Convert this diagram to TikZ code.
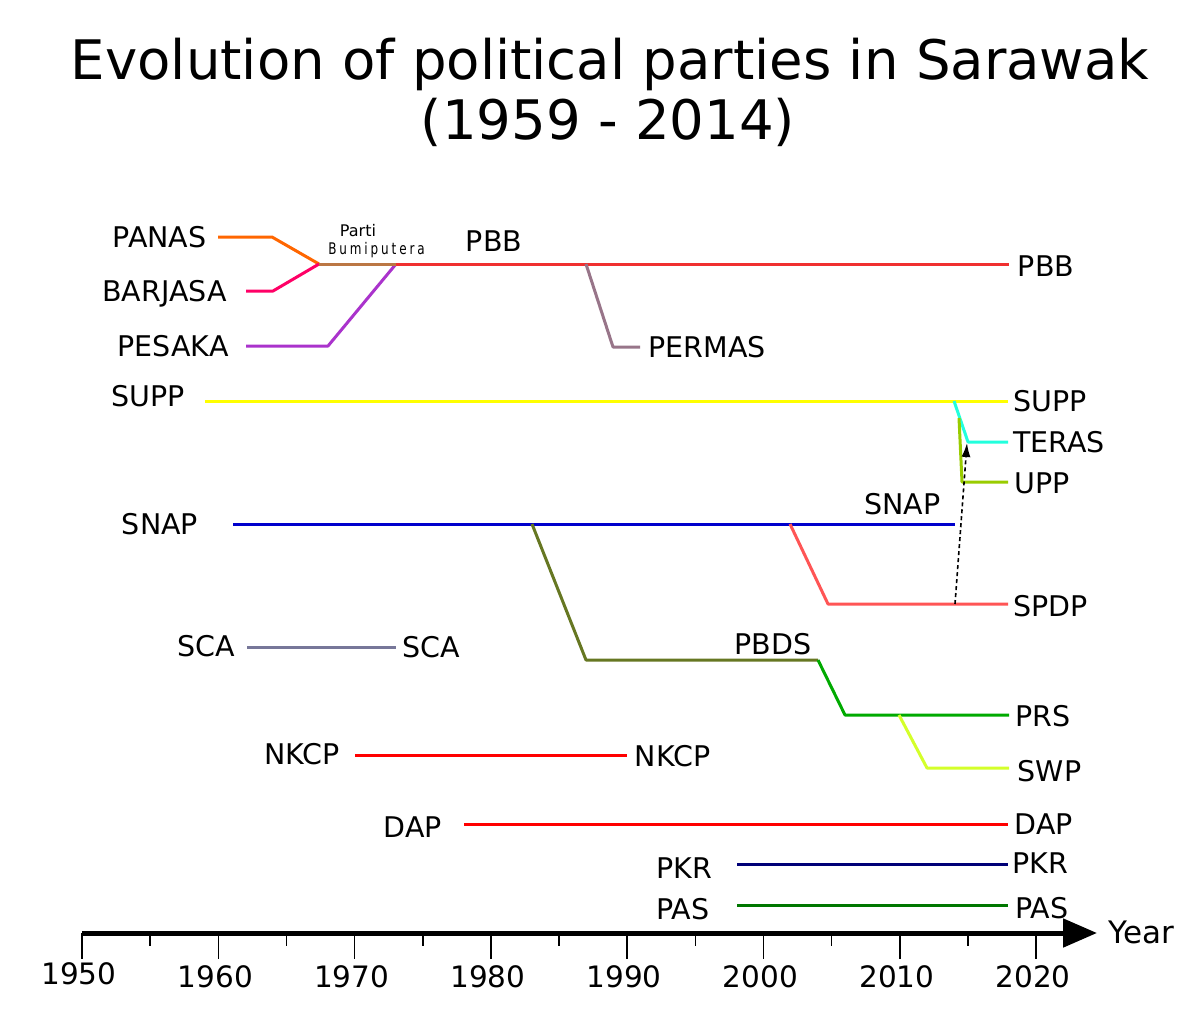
\documentclass[tikz,border=0pt]{standalone}
\usepackage{fontspec}
\setmainfont{DejaVu Sans}
\newfontfamily\bumifont[LetterSpace=24]{DejaVu Sans}
\usetikzlibrary{arrows.meta}
\definecolor{cPanas}{HTML}{FF6600}
\definecolor{cBarjasa}{HTML}{FF0066}
\definecolor{cPB}{HTML}{BB7744}
\definecolor{cPesaka}{HTML}{AA33CC}
\definecolor{cPBB}{HTML}{F03030}
\definecolor{cPermas}{HTML}{987589}
\definecolor{cSupp}{HTML}{FFFF00}
\definecolor{cTeras}{HTML}{22FFDD}
\definecolor{cUpp}{HTML}{99CC00}
\definecolor{cSnap}{HTML}{0000CC}
\definecolor{cSpdp}{HTML}{FF5555}
\definecolor{cPbds}{HTML}{667722}
\definecolor{cPrs}{HTML}{00AA00}
\definecolor{cSwp}{HTML}{D4FF2A}
\definecolor{cSca}{HTML}{777799}
\definecolor{cRed}{HTML}{FF0000}
\definecolor{cPkr}{HTML}{000077}
\definecolor{cPas}{HTML}{007700}
\tikzset{
  party/.style={line width=3pt, line join=round},
  lab/.style={font=\fontsize{28.5}{30}\selectfont, inner sep=0pt, text height=20.8pt, text depth=0pt},
  yrlab/.style={font=\fontsize{29.5}{31}\selectfont, inner sep=0pt, text height=21.5pt, text depth=0pt},
  smalllab/.style={font=\fontsize{16}{17}\selectfont, inner sep=0pt, text height=11.7pt, text depth=0pt},
  titlelab/.style={font=\fontsize{54.5}{60}\selectfont, inner sep=0pt, anchor=base},
  tickmajor/.style={line width=1.5pt},
  tickminor/.style={line width=1.5pt},
}
\begin{document}
\begin{tikzpicture}[x=1pt,y=-1pt]
\useasboundingbox (0,0) rectangle (1200,1015);
\fill[white] (0,0) rectangle (1200,1015);

% title
\node[titlelab] (title1) at (610,79) {Evolution of political parties in Sarawak};
\node[titlelab] (title2) at (608,139) {(1959 - 2014)};

% coordinates
\coordinate (panasA) at (218,237);
\coordinate (panasB) at (272,237);
\coordinate (pbA) at (319,264);
\coordinate (barjA) at (246,291);
\coordinate (barjB) at (273,291);
\coordinate (pesA) at (246,346);
\coordinate (pesB) at (328,346);
\coordinate (pbbA) at (396,264);
\coordinate (pbbB) at (1009,264);
\coordinate (permA) at (586,264);
\coordinate (permB) at (613,347);
\coordinate (permC) at (640,347);
\coordinate (suppA) at (205,401);
\coordinate (suppB) at (1008,401);
\coordinate (terA) at (954,401);
\coordinate (terB) at (968,442);
\coordinate (terC) at (1008,442);
\coordinate (uppA) at (959,418);
\coordinate (uppB) at (962,482);
\coordinate (uppC) at (1008,482);
\coordinate (snapA) at (233,524);
\coordinate (snapB) at (955,524);
\coordinate (spdpA) at (790,524);
\coordinate (spdpB) at (828,604);
\coordinate (spdpC) at (1008,604);
\coordinate (spdpD) at (955,604);
\coordinate (arrT) at (967,443);
\coordinate (pbdsA) at (532,524);
\coordinate (pbdsB) at (586,660);
\coordinate (pbdsC) at (818,660);
\coordinate (prsB) at (845,715);
\coordinate (prsC) at (1009,715);
\coordinate (swpA) at (899,715);
\coordinate (swpB) at (927,768);
\coordinate (swpC) at (1009,768);
\coordinate (scaA) at (247,647);
\coordinate (scaB) at (396,647);
\coordinate (nkA) at (355,755);
\coordinate (nkB) at (627,755);
\coordinate (dapA) at (464,824);
\coordinate (dapB) at (1008,824);
\coordinate (pkrA) at (737,864);
\coordinate (pkrB) at (1008,864);
\coordinate (pasA) at (737,905);
\coordinate (pasB) at (1008,905);
\coordinate (axA) at (82,933);
\coordinate (axB) at (1097,933);

% party lines
\draw[party, cPanas] (panasA) -- (panasB) -- (pbA);
\draw[party, cBarjasa] (barjA) -- (barjB) -- (pbA);
\draw[party, cPesaka] (pesA) -- (pesB) -- (pbbA);
\draw[party, cPBB] (pbbA) -- (pbbB);
\draw[party, cPB] (pbA) -- (pbbA);
\draw[party, cPermas] (permA) -- (permB) -- (permC);
\draw[party, cSupp] (suppA) -- (suppB);
\draw[party, cTeras] (terA) -- (terB) -- (terC);
\draw[party, cUpp] (uppA) -- (uppB) -- (uppC);
\draw[party, cSnap] (snapA) -- (snapB);
\draw[party, cSpdp] (spdpA) -- (spdpB) -- (spdpC);
\draw[party, cPbds] (pbdsA) -- (pbdsB) -- (pbdsC);
\draw[party, cPrs] (pbdsC) -- (prsB) -- (prsC);
\draw[party, cSwp] (swpA) -- (swpB) -- (swpC);
\draw[party, cSca] (scaA) -- (scaB);
\draw[party, cRed] (nkA) -- (nkB);
\draw[party, cRed] (dapA) -- (dapB);
\draw[party, cPkr] (pkrA) -- (pkrB);
\draw[party, cPas] (pasA) -- (pasB);
\draw[line width=1.6pt, dash pattern=on 4pt off 3pt, -{Latex[length=14pt,width=9pt]}] (spdpD) -- (arrT);

% labels
\node[lab] (panasL) at (159.5,237) {PANAS};
\node[lab] (barjasaL) at (164.5,291.5) {BARJASA};
\node[lab] (pesakaL) at (173,346.5) {PESAKA};
\node[smalllab] (parti) at (358,231) {Parti};
\node[smalllab] (bumi) at (376.5,249) {\scalebox{0.75}[1]{\bumifont Bumiputera}};
\node[lab] (pbbT) at (494,241) {PBB};
\node[lab] (pbbR) at (1046,266) {PBB};
\node[lab] (permasR) at (707,347.5) {PERMAS};
\node[lab] (suppL) at (148.5,396.5) {SUPP};
\node[lab] (suppR) at (1050.5,401) {SUPP};
\node[lab] (terasR) at (1059,442) {TERAS};
\node[lab] (uppR) at (1042,483) {UPP};
\node[lab] (snapL) at (160,524.5) {SNAP};
\node[lab] (snapT) at (902.5,504) {SNAP};
\node[lab] (spdpR) at (1050.5,606) {SPDP};
\node[lab] (scaL) at (206.5,646.5) {SCA};
\node[lab] (scaR) at (431.5,647.5) {SCA};
\node[lab] (pbdsT) at (773,644) {PBDS};
\node[lab] (prsR) at (1043,716) {PRS};
\node[lab] (nkcpL) at (302,754.5) {NKCP};
\node[lab] (nkcpR) at (672.5,756.5) {NKCP};
\node[lab] (swpR) at (1049.5,771) {SWP};
\node[lab] (dapL) at (413,827) {DAP};
\node[lab] (dapR) at (1044,824.5) {DAP};
\node[lab] (pkrL) at (684,868) {PKR};
\node[lab] (pkrR) at (1040.5,863) {PKR};
\node[lab] (pasL) at (683,909) {PAS};
\node[lab] (pasR) at (1042,908) {PAS};

% axis
\draw[line width=5pt, -{Triangle[length=34pt,width=28pt]}] (axA) -- (axB);
\foreach \yr in {1950,1960,...,2020} {
  \draw[tickmajor] ({82+13.63*(\yr-1950)},933) -- ({82+13.63*(\yr-1950)},959);
}
\foreach \yr in {1955,1965,...,2015} {
  \draw[tickminor] ({82+13.63*(\yr-1950)},933) -- ({82+13.63*(\yr-1950)},946);
}
\node[yrlab] (y1950) at (79,974) {1950};
\foreach \yr in {1960,1970,...,2020} {
  \node[yrlab] (y\yr) at ({79+13.63*(\yr-1950)},977) {\yr};
}
\node[yrlab, font=\fontsize{31}{32}\selectfont] (yearL) at (1141.5,932.5) {Year};
\end{tikzpicture}
\end{document}
